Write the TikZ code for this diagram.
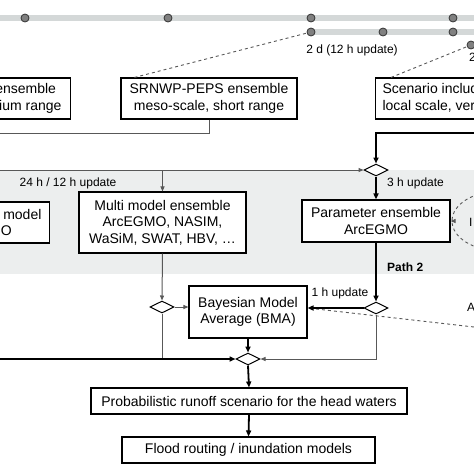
\documentclass[tikz,border=0pt]{standalone}
\usepackage{fontspec}
\setmainfont{Liberation Sans}
\usetikzlibrary{arrows.meta}
\usetikzlibrary{shapes.geometric,calc}

\definecolor{bargray}{HTML}{D4D8D8}
\definecolor{bandgray}{HTML}{ECEEEE}
\definecolor{dotgray}{HTML}{808080}
\definecolor{linegray}{HTML}{585858}

\begin{document}
\begin{tikzpicture}[x=1pt,y=-1pt,
    box/.style={draw,line width=1.1pt,fill=white,align=center,inner sep=2pt,
        font=\fontsize{14}{16.5}\selectfont},
    lbl/.style={inner sep=0pt,font=\fontsize{12}{14}\selectfont},
    dmd/.style={diamond,draw,line width=1pt,fill=white,aspect=2,
        minimum width=24pt,minimum height=12pt,inner sep=0pt},
    tbar/.style={line width=6pt,bargray},
    tdot/.style={circle,draw=black!80,fill=dotgray,line width=0.8pt,
        minimum size=8pt,inner sep=0pt},
    thk/.style={line width=1.8pt,-{Triangle[length=6pt,width=5pt]}},
    thn/.style={line width=1pt,linegray,-{Triangle[length=5pt,width=4pt]}},
    dsh/.style={line width=0.9pt,linegray,dashed}]

    \useasboundingbox (0,0) rectangle (474,474);
    \clip (0,0) rectangle (474,474);

    % shaded band
    \fill [bandgray] (0,170) rectangle (474,274);

    % time lines
    \foreach \ya/\xa in {18/0, 32/307, 45/471}
        \draw [tbar] (\xa,\ya) -- (474,\ya);
    \foreach \xa/\ya [count=\i] in {25/18, 168/18, 311/18, 453/18, 311/32, 383/32, 453/32, 471/45}
        \node [tdot] (t\i) at (\xa,\ya) {};

    \node [lbl] (lbl2d) at (352,50) {2 d (12 h update)};
    \node [lbl,anchor=west] (lblr) at (469,57) {2};

    % forecast boxes
    \node [box,anchor=east,minimum height=41pt,inner xsep=9pt] (cosmo) at (71,98.5)
        {COSMO-LEPS ensemble\\meso-scale, medium range};
    \node [box,minimum width=176pt,minimum height=41pt] (srnwp) at (209,98.5)
        {SRNWP-PEPS ensemble\\meso-scale, short range};
    \node [box,anchor=west,align=left,minimum height=41pt,inner xsep=7pt] (scen) at (375,98.5)
        {Scenario including\\local scale, very short range};

    \draw [dsh] ($(srnwp.north west)+(14,0)$) -- (t5);
    \draw [dsh] ($(scen.north west)+(16,0)$) -- (t8);

    % model boxes
    \node [box,anchor=east,minimum height=41pt,inner xsep=8pt] (detm) at (50,222.5)
        {Deterministic model\\ArcEGMO};
    \node [box,minimum width=167pt,minimum height=61pt] (multi) at (162.5,222.5)
        {Multi model ensemble\\ArcEGMO, NASIM,\\WaSiM, SWAT, HBV, \dots};
    \node [box,minimum width=148pt,minimum height=42pt] (prm) at (376,221)
        {Parameter ensemble\\ArcEGMO};
    \node [box,minimum width=118pt,minimum height=52pt] (bma) at (248,312)
        {Bayesian Model\\Average (BMA)};
    \node [box,minimum width=316pt,minimum height=26pt] (prob) at (249,401)
        {Probabilistic runoff scenario for the head waters};
    \node [box,minimum width=253pt,minimum height=26pt] (flood) at (248.5,450)
        {Flood routing / inundation models};

    \node [lbl] (lbl24) at (68,183) {24 h / 12 h update};
    \node [lbl,anchor=west] (lbl3) at (387,183) {3 h update};
    \node [lbl,anchor=west,font=\fontsize{12}{14}\selectfont\bfseries] (lblp2) at (387,267) {Path 2};
    \node [lbl] (lbl1) at (340,293) {1 h update};
    \node [lbl,anchor=west] (lbla) at (467,307) {A};

    % outside element on the right
    \node [ellipse,draw=linegray,dashed,line width=0.9pt,minimum width=96pt,minimum height=60pt] (ext) at (500,221) {};
    \node [lbl,anchor=west] (lbli) at (469,222) {I};

    % switches
    \node [dmd] (dtop) at (376,170) {};
    \node [dmd] (dl) at (162,307) {};
    \node [dmd] (dr) at (376,308) {};
    \node [dmd] (dm) at (248,359) {};

    \coordinate (outL) at (0,133);
    \coordinate (inL) at (0,170);
    \coordinate (srcR) at (474,133);
    \coordinate (srcL) at (0,359);
    \coordinate (extA) at (474,327);

    % gray paths
    \draw [thn,-] (srnwp.south) |- (outL);
    \draw [thn] (inL) -- (dtop.west);
    \draw [thn] (inL -| multi.north) -- (multi.north);
    \draw [thn] (multi.south) -- (dl.north);
    \draw [thn] (dl.east) -- (dl.east -| bma.west);
    \draw [thn,-] (dl.south) -- (dl.south |- srcL);
    \draw [thn] (dr.south) |- (dm.east);

    \draw [dsh] (extA) -- (dr.west -| bma.east);
    \draw [dsh,-{Triangle[length=5pt,width=4pt]}] (ext.west) -- (prm.east);

    % thick paths
    \draw [thk] (srcR) -| (dtop.north);
    \draw [thk] (dtop.south) -- (prm.north);
    \draw [thk] (prm.south) -- (dr.north);
    \draw [thk] (dr.west) -- (dr.west -| bma.east);
    \draw [thk] (bma.south) -- (dm.north);
    \draw [thk] (srcL) -- (dm.west);
    \draw [thk] (dm.south) -- (prob.north);
    \draw [thk] (prob.south) -- (flood.north);

\end{tikzpicture}
\end{document}
